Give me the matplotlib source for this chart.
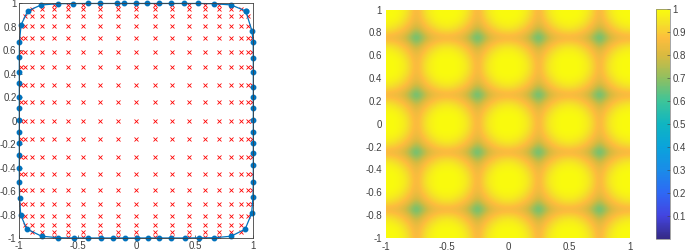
import numpy as np
import matplotlib
matplotlib.use('Agg')
import matplotlib.pyplot as plt
from matplotlib.colors import LinearSegmentedColormap
from matplotlib.path import Path

plt.rcParams['font.family'] = ['Liberation Sans', 'DejaVu Sans']
plt.rcParams['font.size'] = 7

# boundary nodes (counter-clockwise, starting top right)
bnd_x = [0.935, 0.809, 0.660, 0.530, 0.405, 0.297, 0.197, 0.091, -0.003, -0.103, -0.168, -0.310, -0.416, -0.544, -0.673, -0.815,
         -0.928, -0.985, -0.999, -1.0, -1.0, -1.0, -1.0, -1.0, -1.0, -1.0, -1.0, -1.0, -1.0, -1.0, -0.998, -0.988,
         -0.937, -0.809, -0.667, -0.530, -0.415, -0.302, -0.202, -0.097, 0.003, 0.097, 0.194, 0.297, 0.416, 0.538, 0.667, 0.810,
         0.930, 0.986, 0.997, 1.0, 1.0, 1.0, 1.0, 1.0, 1.0, 1.0, 1.0, 1.0, 1.0, 1.0, 0.999, 0.988]
bnd_y = [0.936, 0.988, 0.998, 1.0, 1.0, 1.0, 1.0, 1.0, 1.0, 1.0, 1.0, 1.0, 1.0, 0.999, 0.998, 0.987,
         0.936, 0.817, 0.674, 0.541, 0.418, 0.319, 0.205, 0.106, 0.005, -0.093, -0.192, -0.290, -0.405, -0.525, -0.656, -0.804,
         -0.923, -0.985, -0.998, -1.0, -1.0, -1.0, -1.0, -1.0, -1.0, -1.0, -1.0, -1.0, -1.0, -0.999, -0.998, -0.985,
         -0.925, -0.790, -0.648, -0.520, -0.377, -0.278, -0.192, -0.093, 0.006, 0.106, 0.200, 0.290, 0.418, 0.533, 0.674, 0.768]

# interior node coordinates (same along x and y)
grid_vals = [-0.988, -0.951, -0.891, -0.809, -0.707, -0.588, -0.454, -0.309, -0.156, 0.0,
             0.156, 0.309, 0.454, 0.588, 0.707, 0.809, 0.891, 0.951, 0.988]

# right panel: values over a quarter cell, offsets 0..0.25 from a peak (step 0.05)
quarter = [[1.00, 1.00, 0.99, 0.97, 0.91, 0.85],
           [1.00, 1.00, 0.99, 0.96, 0.905, 0.845],
           [0.99, 0.99, 0.975, 0.93, 0.885, 0.83],
           [0.97, 0.96, 0.93, 0.90, 0.85, 0.79],
           [0.91, 0.905, 0.885, 0.85, 0.79, 0.71],
           [0.85, 0.845, 0.83, 0.79, 0.71, 0.62]]
tile_idx = [0, 1, 2, 3, 4, 5, 4, 3, 2, 1] * 4 + [0]

# parula-like colour stops
cstops = [0.0, 0.1, 0.2, 0.3, 0.4, 0.5, 0.6, 0.7, 0.8, 0.875, 0.94, 1.0]
ccolors = [(0.208, 0.166, 0.529), (0.265, 0.270, 0.880), (0.180, 0.410, 0.960),
           (0.100, 0.550, 0.910), (0.040, 0.640, 0.860), (0.060, 0.710, 0.760),
           (0.240, 0.770, 0.600), (0.560, 0.750, 0.380), (0.850, 0.730, 0.250),
           (0.990, 0.740, 0.240), (0.960, 0.880, 0.160), (0.977, 0.984, 0.054)]
cmap = LinearSegmentedColormap.from_list('parula', list(zip(cstops, ccolors)))

edge = '#404040'


def fmt(v):
    return '%g' % (v + 0.0)


fig = plt.figure(figsize=(6.85, 2.52), dpi=100)

# --- left: nodes
ax1 = fig.add_axes([0.0282, 0.0556, 0.3416, 0.9306])
gx, gy = np.meshgrid(grid_vals, grid_vals)
pts = np.column_stack([gx.ravel(), gy.ravel()])
poly = Path(np.column_stack([bnd_x, bnd_y]) * 1.005)
inside = poly.contains_points(pts)
ax1.plot(pts[inside, 0], pts[inside, 1], 'x', color='red', ms=3, mew=0.6, linestyle='none')
ax1.plot(bnd_x + bnd_x[:1], bnd_y + bnd_y[:1], '-o', color='#0072BD', ms=3.2, lw=0.9, clip_on=False)
ax1.set_xlim(-1, 1)
ax1.set_ylim(-1, 1)
xt = [-1, -0.5, 0, 0.5, 1]
ax1.set_xticks(xt)
ax1.set_xticklabels([fmt(v) for v in xt])
yt = np.round(np.arange(-1, 1.01, 0.2), 1)
ax1.set_yticks(yt)
ax1.set_yticklabels([fmt(v) for v in yt])
ax1.tick_params(direction='in', length=2, width=0.5, pad=2, colors=edge)
for s in ax1.spines.values():
    s.set_color(edge)
    s.set_linewidth(0.6)

# --- right: field
ax2 = fig.add_axes([0.5635, 0.0556, 0.3562, 0.9067])
field = np.array(quarter)[np.ix_(tile_idx, tile_idx)]
h = 0.025
im = ax2.imshow(field, extent=[-1 - h, 1 + h, -1 - h, 1 + h], origin='lower', cmap=cmap,
                vmin=0, vmax=1, interpolation='bicubic', aspect='auto')
ax2.set_xlim(-1, 1)
ax2.set_ylim(-1, 1)
ax2.set_xticks(xt)
ax2.set_xticklabels([fmt(v) for v in xt])
ax2.set_yticks(yt)
ax2.set_yticklabels([fmt(v) for v in yt])
ax2.tick_params(length=0, pad=3, colors=edge)
for s in ax2.spines.values():
    s.set_visible(False)

cax = fig.add_axes([0.9577, 0.0528, 0.0204, 0.910])
cticks = np.round(np.arange(0.1, 1.01, 0.1), 1)
cb = fig.colorbar(im, cax=cax, ticks=cticks)
cb.ax.set_yticklabels([fmt(v) for v in cticks])
cb.ax.tick_params(direction='in', length=2, width=0.4, pad=2, colors=edge)
cb.outline.set_linewidth(0.5)
cb.outline.set_edgecolor('#808080')

fig.savefig('out.png', dpi=100)
